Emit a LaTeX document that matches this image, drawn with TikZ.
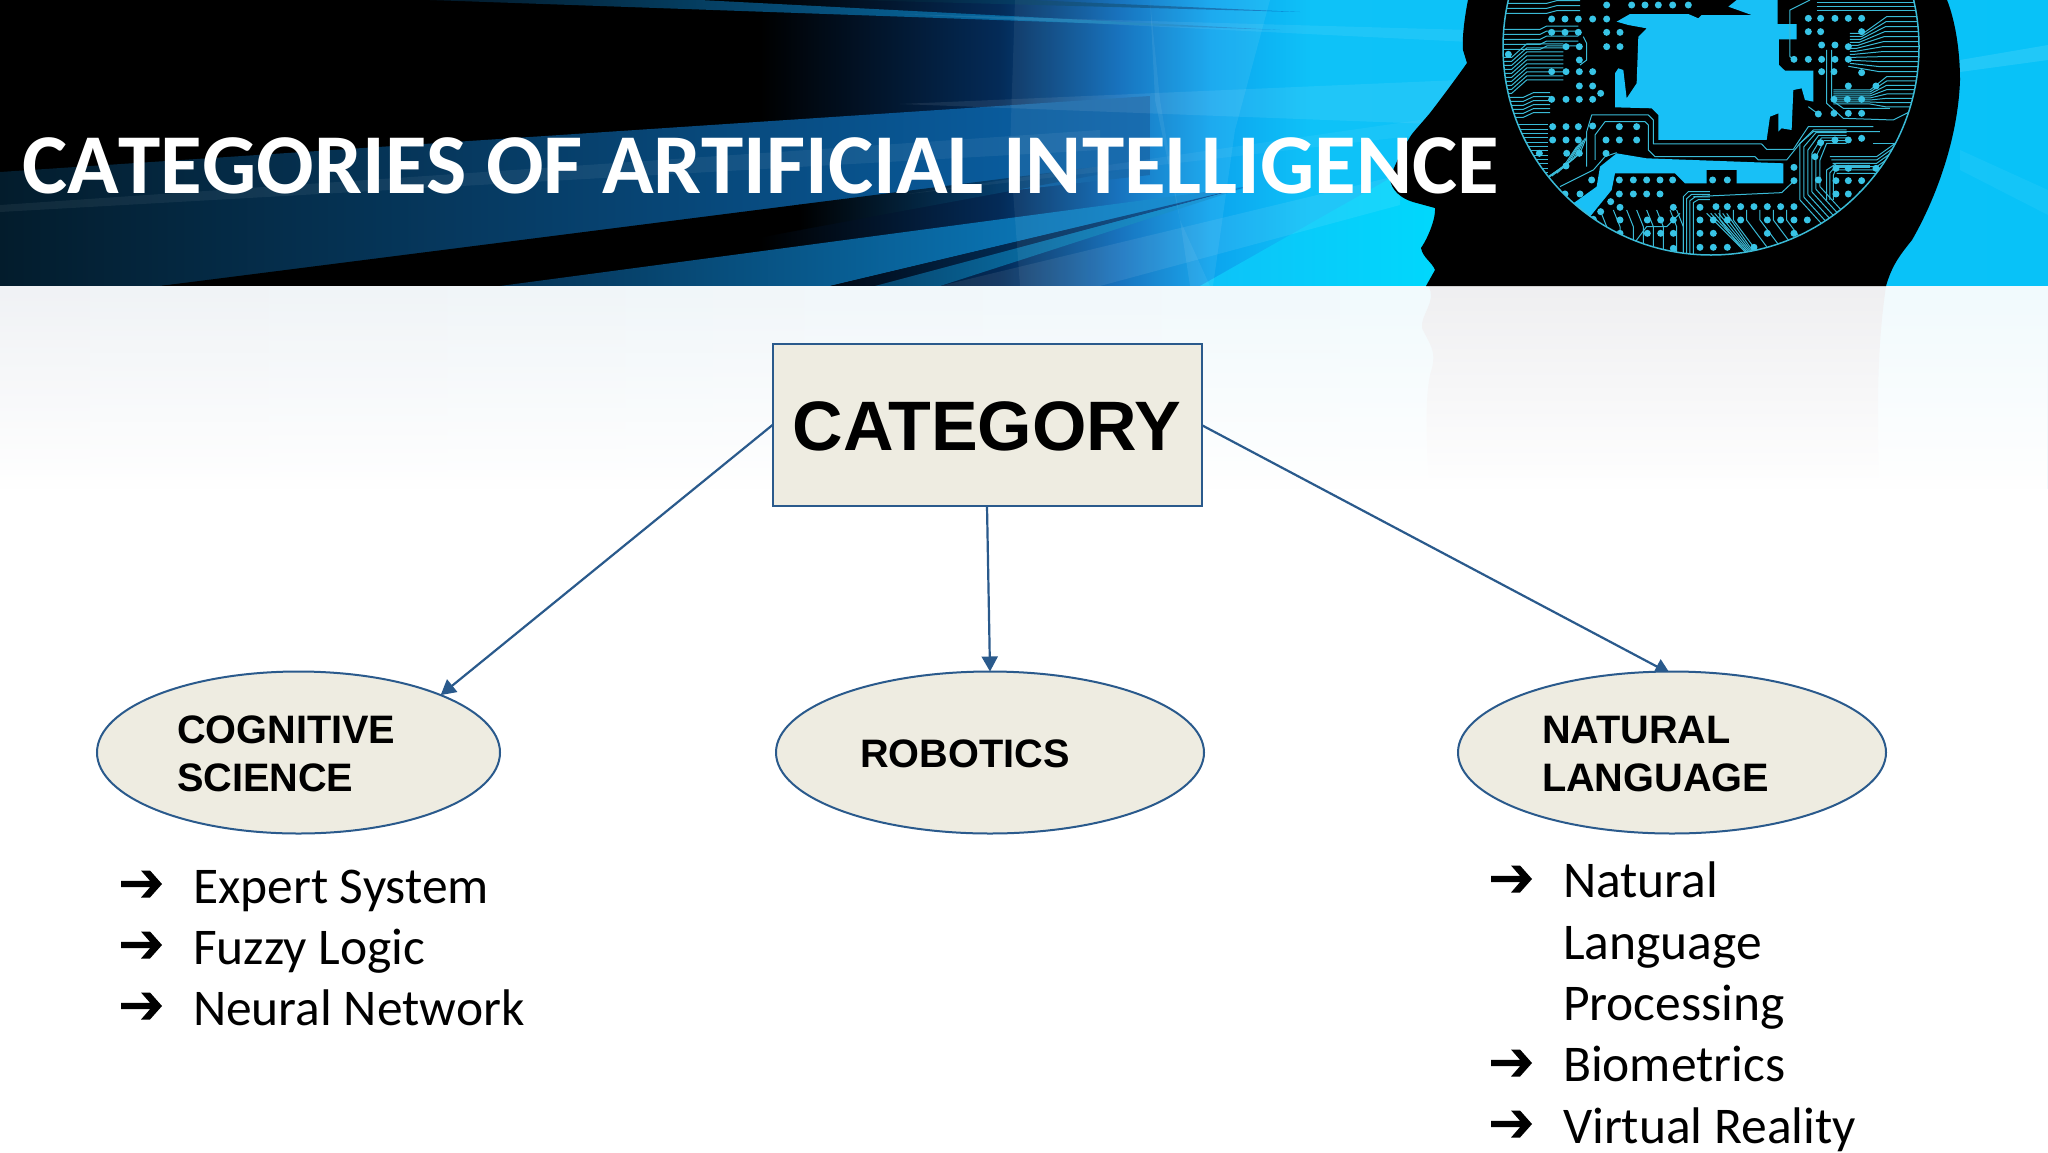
\documentclass[tikz,border=0pt]{standalone}
\usepackage{fontspec}
\setmainfont{Carlito}
\newfontfamily\arialf{Liberation Sans}
\newfontfamily\titlef[Kerning=Off]{Carlito}
\usetikzlibrary{arrows.meta,shapes.geometric,calc,fadings}
\definecolor{boxfill}{HTML}{EEECE1}
\definecolor{boxline}{HTML}{2A5A8C}
\definecolor{trc}{HTML}{3ABAD6}
\definecolor{padc}{HTML}{38C4E6}
\definecolor{chipc}{HTML}{18C0F6}
\definecolor{bgA}{HTML}{042B58}
\definecolor{bgB}{HTML}{0A6CBC}
\definecolor{bgC}{HTML}{0CA4EE}
\definecolor{bgD}{HTML}{0EC2F8}
\definecolor{bgE}{HTML}{08C2F8}
\definecolor{lowL}{HTML}{F0F2F5}
\definecolor{lowM}{HTML}{F1FAFD}
\definecolor{lowH}{HTML}{EFEFF1}
\definecolor{tealA}{HTML}{031C2C}
\definecolor{tealB}{HTML}{0A64AC}
\definecolor{blA}{HTML}{053254}
\definecolor{blB}{HTML}{0C90DC}
\definecolor{dkA}{HTML}{000814}
\definecolor{dkB}{HTML}{0658A4}
\definecolor{mdA}{HTML}{06466E}
\definecolor{mdB}{HTML}{0C9CE4}
\definecolor{wedgeB}{HTML}{0A6CBC}
\definecolor{tpA}{HTML}{021828}
\definecolor{tpB}{HTML}{0A90DC}
\definecolor{tqA}{HTML}{021424}
\definecolor{tqB}{HTML}{0A80D0}
\definecolor{brt}{HTML}{00D8FC}
\tikzfading[name=lowfade,top color=transparent!100,bottom color=transparent!0]
\pgfdeclarelayer{under}
\pgfsetlayers{under,main}
\tikzset{
  shape box/.style={draw=boxline,fill=boxfill,line width=2pt,rectangle,outer sep=0pt,inner sep=0pt},
  oval/.style={draw=boxline,fill=boxfill,line width=2pt,ellipse,outer sep=0pt,inner sep=0pt,minimum height=162pt},
  lbl/.style={anchor=base west,inner sep=0pt,outer sep=0pt,font=\arialf\bfseries\fontsize{39.7}{48}\selectfont,text=black},
  itm/.style={anchor=base west,inner sep=0pt,outer sep=0pt,font=\fontsize{51.5}{60}\selectfont,text=black},
  conn/.style={draw=boxline,line width=2.2pt,-{Triangle[length=15pt,width=16pt]}},
  bullet/.pic={\fill[black] (0,-3.2)--(29,-3.2)--(20,-13.5)--(29,-13.5)--(41,0)--(29,13.5)--(20,13.5)--(29,3.2)--(0,3.2)--cycle;},
  trace/.style={draw=trc,line width=1pt,line join=round},
  ray/.style={fill=white,opacity=#1},
}
\begin{document}
\begin{tikzpicture}[x=1pt,y=-1pt]
\useasboundingbox (0,0) rectangle (2048,1152);
\begin{pgfonlayer}{under}
\fill[white] (0,0) rectangle (2048,1152);
% banner
\fill[black] (0,0) rectangle (761,286);
\shade[left color=black,right color=bgA] (760,0) rectangle (1001,286);
\shade[left color=bgA,right color=bgB] (1000,0) rectangle (1121,286);
\shade[left color=bgB,right color=bgC] (1120,0) rectangle (1211,286);
\shade[left color=bgC,right color=bgD] (1210,0) rectangle (1311,286);
\shade[left color=bgD,right color=bgE] (1310,0) rectangle (2048,286);
\shade[left color=bgD,right color=brt] (1200,286)--(1440,150)--(1440,286)--cycle;
% lower-left rays
\shade[left color=tealA,right color=tealB] (0,172)--(1150,96)--(1150,175)--(160,286)--(0,286)--cycle;
\fill[black] (160,286)--(800,204.5)--(800,230)--(500,286)--cycle;
\shade[left color=black,right color=wedgeB] (799,204.6)--(1150,160)--(1150,165)--(799,230.2)--cycle;
\shade[left color=blA,right color=blB] (500,286)--(1250,186)--(830,286)--cycle;
\shade[left color=dkA,right color=dkB] (830,286)--(1250,186)--(875,286)--cycle;
\shade[left color=mdA,right color=mdB] (875,286)--(1250,186)--(940,286)--cycle;
\fill[ray=.08] (940,286)--(1400,175)--(1400,205)--(1100,286)--cycle;
\fill[ray=.06] (0,205)--(1100,130)--(1100,150)--(0,212)--cycle;
% top rays
\shade[left color=tpA,right color=tpB] (430,0)--(700,0)--(1280,30)--cycle;
\shade[left color=tqA,right color=tqB] (850,0)--(1030,0)--(1300,12)--cycle;
% facets
\fill[ray=.06] (1015,0)--(1150,0)--(1160,100)--(1180,220)--(1210,286)--(1020,286)--(1010,150)--cycle;
\fill[ray=.07] (1150,0)--(1270,0)--(1235,130)--(1213,286)--(1190,286)--(1180,220)--(1155,100)--cycle;
\fill[ray=.08] (900,104)--(1460,80)--(1460,125)--cycle;
\fill[ray=.07] (900,14)--(1470,30)--(1470,42)--cycle;
\fill[ray=.05] (900,195)--(1420,120)--(1420,135)--cycle;
\fill[ray=.10] (1960,60)--(2048,45)--(2048,60)--(1960,72)--cycle;
\fill[ray=.05] (1960,150)--(2048,190)--(2048,215)--(1960,170)--cycle;
% lower background
\shade[left color=lowL,right color=lowM] (0,286) rectangle (1429,500);
\fill[lowM] (1428,286) rectangle (2048,500);
\fill[lowH] (1428,286) .. controls (1438,300) and (1420,315) .. (1422,328) .. controls (1430,345) and (1436,350) .. (1432,368) .. controls (1424,390) and (1426,450) .. (1430,500) -- (1880,500) .. controls (1876,400) and (1878,340) .. (1886,286) -- cycle;
\fill[white,path fading=lowfade] (0,285) rectangle (2048,490);
\fill[white] (0,489) rectangle (2048,502);
% head
\fill[black] (1468,0) .. controls (1464,20) and (1462,40) .. (1463,50) -- (1467,63) .. controls (1455,80) and (1440,100) .. (1430,113) .. controls (1420,125) and (1413,132) .. (1410,137) .. controls (1402,150) and (1392,170) .. (1390,180) .. controls (1392,190) and (1400,198) .. (1413,202) -- (1435,208) .. controls (1436,218) and (1428,238) .. (1421,248) .. controls (1423,258) and (1432,262) .. (1435,270) -- (1426,286) -- (1886,286) .. controls (1892,265) and (1900,255) .. (1912,240) .. controls (1935,200) and (1958,140) .. (1960,80) .. controls (1960,50) and (1955,20) .. (1947,0) -- cycle;
% circuit disc
\begin{scope}
\clip (1711,47) circle (208);
\begin{scope}[shift={(1480,0)},x=0.3333pt,y=-0.3333pt]
\fill[chipc] (450,42)--(625,42)--(655,55)--(665,45)--(815,45)--(745,20)--(770,0)--(893,0)--(893,72)--(950,72)--(950,118)--(897,118)--(897,195)--(915,212)--(1000,212)--(1000,305)--(975,300)--(965,265)--(940,270)--(935,390)--(905,385)--(895,395)--(895,340)--(870,350)--(860,420)--(535,420)--(535,345)--(515,325)--(405,322)--(405,220)--(415,205)--(430,210)--(440,295)--(470,250)--(475,110)--(500,85)--(445,75)--(410,65)--cycle;
\fill[chipc] (410,460)--(500,475)--(910,490)--(910,550)--(770,550)--(770,510)--(680,510)--(680,550)--(615,550)--(585,520)--(405,520)--(395,570)--(330,650)--(280,610)--(350,560)--(360,500)--cycle;
% left hatch
\foreach \y in {10,25,40} \draw[trace] (40,\y)--(200,\y)--(230,\y-8)--(300,\y-8);
\foreach \y in {88,103,118,133,148} \draw[trace] (40,\y)--(180,\y)--(200,\y-10)--(295,\y-10);
\foreach \y in {172,184,196,208,220,232,244,256,268,280} \draw[trace] (40,\y)--(95,\y)--(140,\y-40)--(250,\y-40);
\foreach \y in {292,304,316,328,340,352} \draw[trace] (40,\y)--(130,\y)--(160,\y-14)--(210,\y-14);
\foreach \y in {375,388,401,414,427,440,453,466,479,492,505,518} \draw[trace] (40,\y)--(205,\y);
\foreach \i in {0,...,5} \draw[trace] (160+\i*14,560-\i*8)--(250+\i*10,500-\i*8)--(290+\i*6,440-\i*6);
\draw[trace] (320,500)--(320,395)--(335,345)--(505,345)--(520,360)--(520,432)--(845,432)--(860,448)--(940,448)--(985,380)--(1180,380);
\draw[trace] (345,480)--(345,405)--(375,365)--(495,365)--(505,375)--(505,450)--(525,470)--(825,470)--(835,480)--(920,480)--(960,430)--(1000,395)--(1200,395);
\draw[trace] (310,110)--(320,130)--(320,180)--(300,195);
\draw[trace] (240,560)--(340,510)--(375,470)--(410,458);
% right hatch
\foreach \y in {6,18,30} \draw[trace] (1010,\y)--(1330,\y);
\foreach \i in {0,...,11} \draw[trace] (1330,50+\i*15)--(1220-\i*2,50+\i*15)--(1150-\i*4,100+\i*9)--(1110,100+\i*9);
\foreach \i in {0,...,7} \draw[trace] (1330,230+\i*13)--(1220,230+\i*13)--(1170,270+\i*6)--(1060,270+\i*6);
\draw[trace] (930,60)--(930,30)--(990,0);
\draw[trace] (930,60)--(930,170)--(942,178);
\draw[trace] (1040,150)--(1040,310)--(1090,355)--(1240,360)--(1300,330);
\draw[trace] (1055,150)--(1055,300)--(1090,325)--(1230,325);
\draw[trace] (985,320)--(1015,342);
\draw[trace] (1180,430)--(1300,430);
% lower right
\foreach \i in {0,...,5} \draw[trace] (960+\i*12,600-\i*8)--(960+\i*12,430+\i*10)--(1000+\i*8,390+\i*8)--(1100,390+\i*8);
\foreach \i in {0,...,5} \draw[trace] (960+\i*12,600-\i*8)--(1060+\i*12,710-\i*8);
\foreach \i in {0,...,5} \draw[trace] (1050+\i*4,470+\i*10)--(1190,470+\i*10)--(1260,420+\i*10);
\foreach \i in {0,1,2} \draw[trace] (1040+\i*10,600)--(1040+\i*10,510+\i*8)--(1070,490+\i*6)--(1170,490+\i*6);
% lower centre
\foreach \i in {0,...,3} \draw[trace] (610+\i*10,770)--(610+\i*10,590+\i*6)--(625+\i*10,575+\i*8)--(690,575+\i*8);
\draw[trace] (640,590)--(905,578)--(940,545);
\foreach \i in {0,...,5} \draw[trace] (680+\i*12,640)--(810+\i*4,770);
\foreach \x in {720,760,800,840,880,920} \draw[trace] (\x,630)--(\x,660)--(\x+60,740);
\foreach \x in {360,400,440,470,500,530,570,590} \draw[trace] (\x,630)--(\x+20,680)--(\x+20,770);
\draw[trace] (600,640)--(560,680)--(500,680)--(470,720)--(470,770);
\foreach \p in {(380,15),(455,15),(495,15),(535,15),(578,15),(625,15),(215,57),(255,57),(295,57),(338,57),(380,57),(380,97),(420,97),(215,97),(255,97),(295,97),(380,140),(420,140),(258,140),(298,140),(85,163),(298,180),(215,215),(258,215),(298,215),(338,215),(298,258),(338,258),(362,280),(215,298),(258,298),(298,298),(338,298),
(218,380),(258,380),(295,380),(338,378),(418,380),(470,380),(218,420),(258,420),(295,420),(378,420),(418,420),(470,420),(178,460),(260,460),(298,460),(378,460),(258,498),(335,540),(255,582),(300,582),
(418,540),(460,540),(500,540),(540,540),(578,540),(418,582),(460,582),(500,582),(540,582),(698,540),(742,540),(392,605),(420,622),(362,635),(340,658),(420,660),(580,622),(502,660),(542,660),(580,660),(502,700),(542,700),(580,700),(580,745),(420,700),
(660,622),(708,620),(742,620),(782,620),(822,620),(862,620),(902,620),(942,620),(660,660),(700,660),(742,660),(782,660),(862,660),(902,660),(942,660),(982,660),(660,700),(700,700),(862,700),(942,700),(660,742),(700,742),(742,742),(822,742),
(942,502),(942,542),(1015,540),(1068,505),(1105,505),(1188,505),(1068,542),(1105,542),(1145,542),(1068,582),(1105,582),(1145,582),(1005,470),(1022,428),(1065,420),(1105,420),(1145,415),(1015,342),(1062,340),(1105,340),(1145,340),(1062,298),(1102,298),(1145,298),(1105,258),(1188,258),(1025,215),(1062,215),(1145,218),(1025,178),(985,178),(942,178),(1065,178),(1105,178),(1025,135),(1065,135),(1105,140),(985,55),(1022,55),(1065,55),(1105,55),(1145,55),(985,95),(1022,95),(1145,95)}
  \fill[padc] \p circle (10.5);
\end{scope}
\end{scope}
\draw[trc,line width=1.5pt] (1711,47) circle (208);
\end{pgfonlayer}
% title
\node[anchor=base west,inner sep=0pt,outer sep=0pt,text=white,font=\titlef\bfseries\fontsize{85.2}{100}\selectfont] (title) at (22,193) {CATEGORIES OF ARTIFICIAL INTELLIGENCE};
% diagram
\node[shape box,minimum width=429pt,minimum height=162pt] (cat) at (987,425) {};
\node[anchor=base,inner sep=0pt,outer sep=0pt,text=black,font=\arialf\bfseries\fontsize{70}{80}\selectfont] (cattext) at (987,450) {CATEGORY};
\node[oval,minimum width=403pt] (cog) at (298.5,752.5) {};
\node[oval,minimum width=428pt] (rob) at (990,752.5) {};
\node[oval,minimum width=428pt] (nat) at (1672,752.5) {};
\node[lbl] (cogA) at (177,743) {COGNITIVE};
\node[lbl] (cogB) at (177,791) {SCIENCE};
\node[lbl] (robA) at (860,767) {ROBOTICS};
\node[lbl] (natA) at (1542,743) {NATURAL};
\node[lbl] (natB) at (1542,791) {LANGUAGE};
\begin{pgfonlayer}{under}
\draw[conn] (cat.west) -- (cog.22);
\draw[conn] (cat.south) -- (rob.north);
\draw[conn] (cat.east) -- ($(nat.north)+(-2,2)$);
\end{pgfonlayer}
% lists
\pic at (121,884) {bullet};
\pic at (121,945) {bullet};
\pic at (121,1006) {bullet};
\node[itm] (l1) at (193,903) {Expert System};
\node[itm] (l2) at (193,964) {Fuzzy Logic};
\node[itm] (l3) at (193,1025) {Neural Network};
\pic at (1491,879) {bullet};
\pic at (1491,1063) {bullet};
\pic at (1491,1124) {bullet};
\node[itm] (r1) at (1563,897) {Natural};
\node[itm] (r2) at (1563,959) {Language};
\node[itm] (r3) at (1563,1020) {Processing};
\node[itm] (r4) at (1563,1081) {Biometrics};
\node[itm] (r5) at (1563,1143) {Virtual Reality};
\end{tikzpicture}
\end{document}
